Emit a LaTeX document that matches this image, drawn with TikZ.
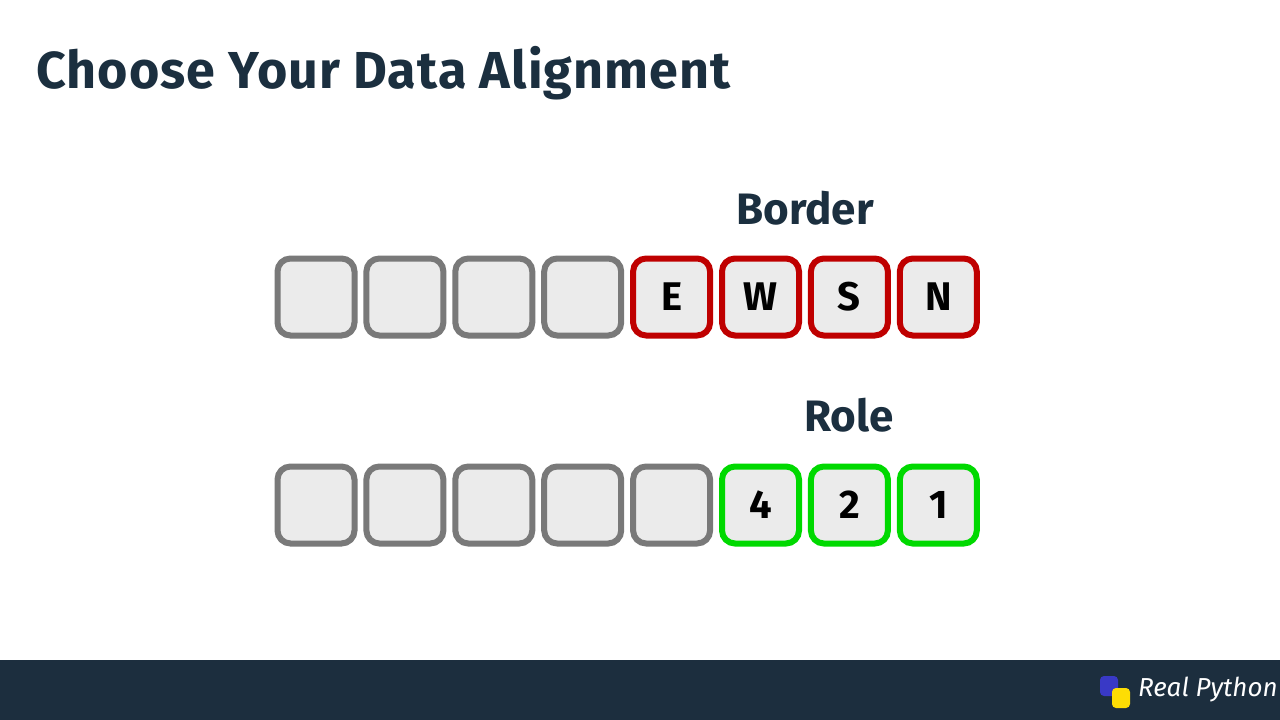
\documentclass[tikz,border=0pt]{standalone}
\usepackage{fontspec}
\setmainfont{Fira Sans}
\begin{document}
\begin{tikzpicture}[x=1pt,y=-1pt,
  cell/.style={draw=gray!95!black,line width=6pt,fill=black!8,rounded corners=13pt,minimum size=77pt,inner sep=0pt,font=\fontsize{40}{44}\selectfont\bfseries,text=black},
  redcell/.style={cell,draw=red!75!black},
  greencell/.style={cell,draw=green!85!black},
  lbl/.style={font=\fontsize{44}{48}\selectfont\bfseries,text=titlec}]
\definecolor{titlec}{HTML}{1B2F3F}
\definecolor{barc}{HTML}{1C2E3E}
\useasboundingbox (0,0) rectangle (1280,720);
\fill[white] (0,0) rectangle (1280,720);
\node[anchor=base west,inner sep=0pt,font=\fontsize{52}{56}\selectfont\bfseries,text=titlec] (title) at (36,88) {\addfontfeatures{LetterSpace=2}Choose Your Data Alignment};
\foreach \i/\t/\s in {1//cell,2//cell,3//cell,4//cell,5/E/redcell,6/W/redcell,7/S/redcell,8/N/redcell}
  \node[\s] (a\i) at ({316+(\i-1)*88.9},297) {\t};
\foreach \i/\t/\s in {1//cell,2//cell,3//cell,4//cell,5//cell,6/4/greencell,7/2/greencell,8/1/greencell}
  \node[\s] (b\i) at ({316+(\i-1)*88.9},505) {\t};
\node[lbl] (border) at (805,208) {Border};
\node[lbl] (role) at (849,415) {Role};
\fill[barc] (0,660) rectangle (1280,720);
\fill[blue!55!gray,rounded corners=4pt] (1100,676) rectangle (1118,696);
\fill[yellow!80!orange,rounded corners=4pt] (1112,688) rectangle (1130,708);
\node[anchor=west,inner sep=0pt,text=white,font=\fontsize{26}{28}\selectfont\itshape] (logo) at (1138,690) {Real Python};
\end{tikzpicture}
\end{document}
